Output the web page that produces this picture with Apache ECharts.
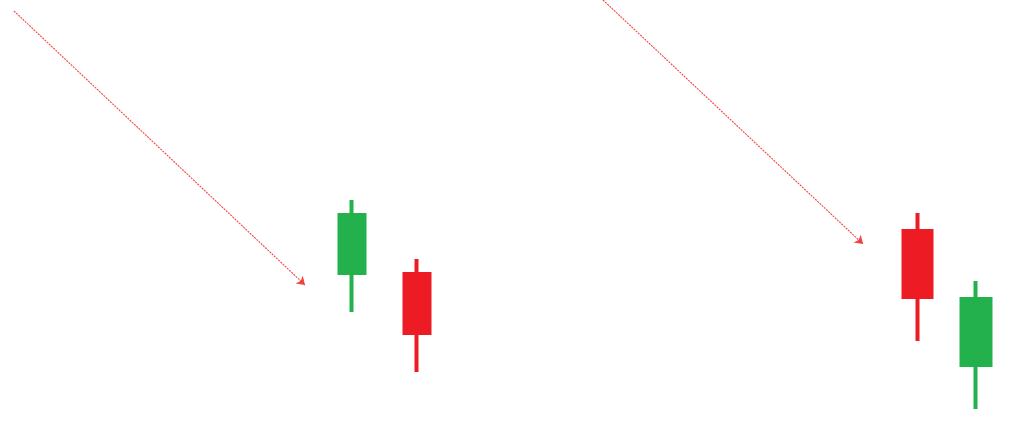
<!DOCTYPE html>
<html>
<head>
<meta charset="utf-8">
<title>Candles</title>
<script src="https://cdn.jsdelivr.net/npm/echarts@6/dist/echarts.min.js"></script>
<style>
  html, body { margin: 0; padding: 0; background: #fff; }
  #chart { width: 1024px; height: 425px; }
</style>
</head>
<body>
<div id="chart"></div>
<script>
// x position, open, close, low, high (price units, bottom of chart = 0)
var leftCandles = [
  [352, 152, 210, 113, 225],
  [417, 151, 92, 53, 166]
];
var rightCandles = [
  [917.5, 194, 128, 84, 212],
  [976, 60, 126, 16, 144]
];
// arrow start / end points [x, price]
var leftArrow = [[14, 414], [305, 140]];
var rightArrow = [[603, 425], [863, 181]];

var green = '#22b14c';
var red = '#ed1c24';

var chart = echarts.init(document.getElementById('chart'));

function arrowLine(pts) {
  return {
    silent: true,
    animation: false,
    symbol: ['none', 'arrow'],
    symbolSize: 8,
    label: { show: false },
    lineStyle: { color: '#f23030', width: 1.1, type: [2, 1], opacity: 0.9 },
    data: [[{ coord: pts[0] }, { coord: pts[1] }]]
  };
}

function candles(data, width, pts) {
  return {
    type: 'candlestick',
    data: data,
    barWidth: width,
    itemStyle: {
      color: green,
      color0: red,
      borderColor: green,
      borderColor0: red,
      borderWidth: 4
    },
    markLine: arrowLine(pts)
  };
}

var option = {
  animation: false,
  backgroundColor: '#fff',
  grid: { left: 0, right: 0, top: 0, bottom: 0 },
  xAxis: { type: 'value', min: 0, max: 1024, show: false },
  yAxis: { type: 'value', min: 0, max: 425, show: false },
  series: [
    candles(leftCandles, 26, leftArrow),
    candles(rightCandles, 29, rightArrow)
  ]
};

chart.setOption(option);
</script>
</body>
</html>
